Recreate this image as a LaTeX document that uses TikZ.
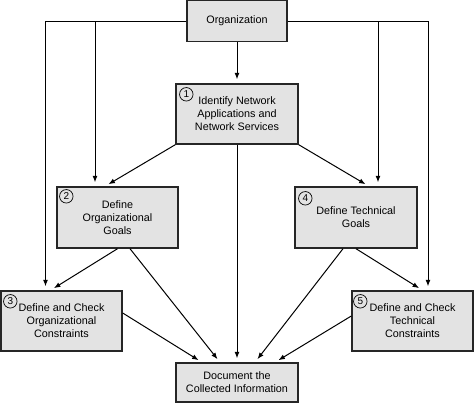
\documentclass[tikz,border=0pt]{standalone}
\usepackage{fontspec}
\setmainfont{Liberation Sans}
\usetikzlibrary{arrows.meta}
\definecolor{boxgray}{gray}{0.89}
\tikzset{
  stepbox/.style={rectangle, draw=black!85, line width=1.4pt, fill=boxgray,
    align=center, inner sep=0pt, font=\fontsize{10.8}{13}\selectfont},
  numcirc/.style={circle, draw, line width=0.7pt, inner sep=0pt,
    minimum size=13.5pt, font=\fontsize{10}{10}\selectfont},
  flow/.style={line width=1pt, -{Latex[length=6.5pt,width=5pt]}, shorten >=4pt}
}
\begin{document}
\begin{tikzpicture}[x=1pt,y=-1pt]
  \useasboundingbox (0,0) rectangle (474,402);
  % Nodes
  \node (org) at (237,21) [stepbox, minimum width=100pt, minimum height=41pt] {Organization};
  \node (ident) at (237,114) [stepbox, minimum width=122pt, minimum height=60pt] {Identify Network\\Applications and\\Network Services};
  \node (orggoals) at (117.5,217.5) [stepbox, minimum width=121pt, minimum height=61pt] {Define\\Organizational\\Goals};
  \node (techgoals) at (356,217.5) [stepbox, minimum width=122pt, minimum height=61pt] {Define Technical\\Goals};
  \node (orgcons) at (61.5,321) [stepbox, minimum width=121pt, minimum height=60pt] {Define and Check\\Organizational\\Constraints};
  \node (techcons) at (412.5,321) [stepbox, minimum width=121pt, minimum height=60pt] {Define and Check\\Technical\\Constraints};
  \node (doc) at (237,382.5) [stepbox, minimum width=122pt, minimum height=39pt] {Document the\\Collected Information};

  % Step numbers
  \node (n1) at ([xshift=11pt,yshift=-11pt]ident.north west) [numcirc] {1};
  \node (n2) at ([xshift=10pt,yshift=-10pt]orggoals.north west) [numcirc] {2};
  \node (n3) at ([xshift=10pt,yshift=-11pt]orgcons.north west) [numcirc] {3};
  \node (n4) at ([xshift=11pt,yshift=-12pt]techgoals.north west) [numcirc] {4};
  \node (n5) at ([xshift=9pt,yshift=-11pt]techcons.north west) [numcirc] {5};

  % Edges
  \draw[flow] (org) -- (ident);
  \draw[flow] (org.west) -| ([xshift=-16pt]orgcons.north);
  \draw[flow] (org.west) -| ([xshift=-22.5pt]orggoals.north);
  \draw[flow] (org.east) -| ([xshift=22pt]techgoals.north);
  \draw[flow] (org.east) -| ([xshift=15.5pt]techcons.north);
  \draw[flow] (ident.south west) -- ([xshift=-12.5pt]orggoals.north);
  \draw[flow] (ident.south east) -- ([xshift=13pt]techgoals.north);
  \draw[flow] (ident.south) -- (doc.north);
  \draw[flow] (orggoals.south) -- ([xshift=-11pt]orgcons.north);
  \draw[flow] ([xshift=12.5pt]orggoals.south) -- ([xshift=-17pt]doc.north);
  \draw[flow] (techgoals.south) -- ([xshift=10pt]techcons.north);
  \draw[flow] ([xshift=-13pt]techgoals.south) -- ([xshift=18pt]doc.north);
  \draw[flow] ([yshift=8pt]orgcons.east) -- ([xshift=-35pt]doc.north);
  \draw[flow] ([yshift=5pt]techcons.west) -- ([xshift=38pt]doc.north);
\end{tikzpicture}
\end{document}
